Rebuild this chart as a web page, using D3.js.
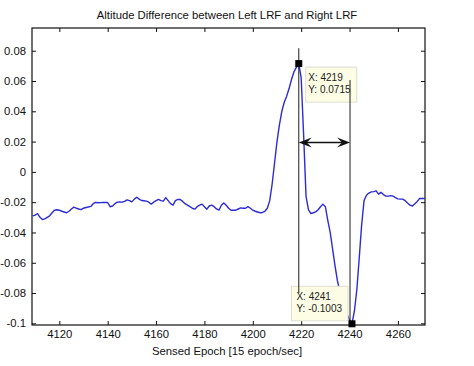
<!DOCTYPE html>
<html>
<head>
<meta charset="utf-8">
<script src="https://cdn.jsdelivr.net/npm/d3@7"></script>
<style>
  html, body { margin: 0; padding: 0; background: #fff; }
  svg { display: block; font-family: Arial, "Liberation Sans", sans-serif; }
</style>
</head>
<body>
<svg id="chart" width="474" height="366"></svg>
<script>
// ---- Data ----
const title = "Altitude Difference between Left LRF and Right LRF";
const xLabel = "Sensed Epoch [15 epoch/sec]";
const startEpoch = 4109;
const altDiff = [
  -0.029, -0.0285, -0.0275, -0.030, -0.0315, -0.031, -0.030, -0.029, -0.027, -0.0253,   // 4109-4118
  -0.025, -0.0253, -0.026, -0.0265, -0.027, -0.026, -0.0245, -0.0233, -0.024, -0.0245,  // 4119-4128
  -0.0249, -0.024, -0.0235, -0.0232, -0.0228, -0.021, -0.0202, -0.0204, -0.0203, -0.0202, // 4129-4138
  -0.0202, -0.0202, -0.023, -0.0225, -0.021, -0.020, -0.0198, -0.020, -0.0195, -0.0185,  // 4139-4148
  -0.019, -0.0198, -0.018, -0.0167, -0.018, -0.0189, -0.0191, -0.0193, -0.020, -0.0213,  // 4149-4158
  -0.020, -0.019, -0.0182, -0.019, -0.0193, -0.017, -0.019, -0.021, -0.022, -0.019,      // 4159-4168
  -0.0182, -0.0182, -0.0195, -0.021, -0.022, -0.023, -0.024, -0.0246, -0.023, -0.022,    // 4169-4178
  -0.0213, -0.023, -0.0246, -0.0225, -0.022, -0.023, -0.0245, -0.0253, -0.022, -0.0205,  // 4179-4188
  -0.022, -0.024, -0.0253, -0.0253, -0.0253, -0.0245, -0.0238, -0.024, -0.024, -0.023,   // 4189-4198
  -0.024, -0.0253, -0.026, -0.0265, -0.027, -0.0268, -0.026, -0.024, -0.019, -0.008,     // 4199-4208
  0.006, 0.020, 0.031, 0.040, 0.046, 0.050, 0.055, 0.061, 0.066, 0.069,                  // 4209-4218
  0.0715, 0.062, 0.025, -0.016, -0.025, -0.0275, -0.027, -0.0264, -0.025, -0.023,        // 4219-4228
  -0.0213, -0.023, -0.032, -0.040, -0.051, -0.062, -0.072, -0.079, -0.085, -0.090,       // 4229-4238
  -0.094, -0.098, -0.1003, -0.092, -0.078, -0.057, -0.035, -0.019, -0.0154, -0.014,      // 4239-4248
  -0.0132, -0.013, -0.0125, -0.0147, -0.0135, -0.015, -0.016, -0.016, -0.0157, -0.016,   // 4249-4258
  -0.017, -0.0178, -0.018, -0.018, -0.019, -0.0206, -0.022, -0.0225, -0.021, -0.0195,    // 4259-4268
  -0.0176, -0.0176, -0.0176                                                              // 4269-4271
];
const epochs = altDiff.map((v, i) => startEpoch + i);

const xTicks = [4120, 4140, 4160, 4180, 4200, 4220, 4240, 4260];
const xTickLabels = ["4120", "4140", "4160", "4180", "4200", "4220", "4240", "4260"];
const yTicks = [-0.1, -0.08, -0.06, -0.04, -0.02, 0, 0.02, 0.04, 0.06, 0.08];
const yTickLabels = ["-0.1", "-0.08", "-0.06", "-0.04", "-0.02", "0", "0.02", "0.04", "0.06", "0.08"];

// data cursors
const cursorX = [4219, 4241];
const cursorY = [0.0715, -0.1003];
const cursorText = [["X: 4219", "Y: 0.0715"], ["X: 4241", "Y: -0.1003"]];
// annotation vertical lines [x, yTop, yBottom] in data units
const vLineX = [4219, 4240.2];
const vLineTop = [0.0817, 0.0606];
const vLineBottom = [-0.080, -0.1011];
const arrowY = 0.0194;

// ---- Layout ----
const L = 32, R = 425, T = 28, B = 325;
const x = d3.scaleLinear().domain([4108.7, 4271.2]).range([L, R]);
const y = d3.scaleLinear().domain([-0.1011, 0.095]).range([B, T]);

const svg = d3.select("#chart");

svg.append("defs").append("clipPath").attr("id", "clip")
  .append("rect").attr("x", L).attr("y", T).attr("width", R - L).attr("height", B - T);

// title
svg.append("text").attr("x", 227).attr("y", 19).attr("text-anchor", "middle")
  .attr("font-size", 11.3).attr("fill", "#111").text(title);

// x label
svg.append("text").attr("x", 227).attr("y", 355).attr("text-anchor", "middle")
  .attr("font-size", 11.3).attr("fill", "#111").text(xLabel);

// axes
const fmtX = (d) => xTickLabels[xTicks.indexOf(d)];
const fmtY = (d) => yTickLabels[yTicks.findIndex(t => Math.abs(t - d) < 1e-9)];

const gx = svg.append("g").attr("transform", `translate(0,${B})`)
  .call(d3.axisBottom(x).tickValues(xTicks).tickFormat(fmtX).tickSizeInner(-4).tickSizeOuter(0).tickPadding(5));
const gxt = svg.append("g").attr("transform", `translate(0,${T})`)
  .call(d3.axisTop(x).tickValues(xTicks).tickFormat("").tickSizeInner(-4).tickSizeOuter(0));
const gy = svg.append("g").attr("transform", `translate(${L},0)`)
  .call(d3.axisLeft(y).tickValues(yTicks).tickFormat(fmtY).tickSizeInner(-4).tickSizeOuter(0).tickPadding(6));
const gyr = svg.append("g").attr("transform", `translate(${R},0)`)
  .call(d3.axisRight(y).tickValues(yTicks).tickFormat("").tickSizeInner(-4).tickSizeOuter(0));

[gx, gxt, gy, gyr].forEach(g => {
  g.select(".domain").remove();
  g.selectAll("line").attr("stroke", "#111");
  g.selectAll("text").attr("font-size", 11.3).attr("fill", "#111")
    .attr("font-family", "Arial, 'Liberation Sans', sans-serif");
});

// data line
const line = d3.line().x((d, i) => x(epochs[i])).y(d => y(d));
svg.append("path").datum(altDiff).attr("clip-path", "url(#clip)")
  .attr("d", line).attr("fill", "none").attr("stroke", "#2b2bd8")
  .attr("stroke-width", 1.4).attr("stroke-linejoin", "round");

// frame
svg.append("rect").attr("x", L).attr("y", T).attr("width", R - L).attr("height", B - T)
  .attr("fill", "none").attr("stroke", "#111").attr("stroke-width", 1.2);

// tooltip boxes
const boxes = [
  { x: x(cursorX[0]) + 7, y: y(cursorY[0]) + 3.5, w: 51, h: 35 },
  { x: x(cursorX[1]) - 60.5, y: y(cursorY[1]) - 37.5, w: 56.5, h: 34.5 }
];
boxes.forEach((b, i) => {
  svg.append("rect").attr("x", b.x).attr("y", b.y).attr("width", b.w).attr("height", b.h)
    .attr("fill", "#fdfde6").attr("stroke", "#deded0").attr("stroke-width", 1);
  cursorText[i].forEach((t, j) => {
    svg.append("text").attr("x", b.x + (i === 0 ? 2.5 : 5)).attr("y", b.y + 13.5 + j * 12.5)
      .attr("font-size", 10).attr("fill", "#222").text(t);
  });
});

// vertical lines
vLineX.forEach((vx, i) => {
  svg.append("line").attr("x1", x(vx)).attr("x2", x(vx))
    .attr("y1", y(vLineTop[i])).attr("y2", y(vLineBottom[i]))
    .attr("stroke", "#333").attr("stroke-width", 1.1);
});

// double arrow
const ax1 = x(vLineX[0]), ax2 = x(vLineX[1]), ay = y(arrowY);
svg.append("line").attr("x1", ax1 + 6).attr("x2", ax2 - 6).attr("y1", ay).attr("y2", ay)
  .attr("stroke", "#111").attr("stroke-width", 1.4);
const head = (tx, dir) => {
  const len = 13, hw = 5, notch = 8;
  return `M${tx},${ay} L${tx + dir * len},${ay - hw} L${tx + dir * notch},${ay} L${tx + dir * len},${ay + hw} Z`;
};
svg.append("path").attr("d", head(ax1, 1)).attr("fill", "#111");
svg.append("path").attr("d", head(ax2, -1)).attr("fill", "#111");

// cursor markers
cursorX.forEach((cx, i) => {
  svg.append("rect").attr("x", x(cx) - 3.5).attr("y", y(cursorY[i]) - 3.5)
    .attr("width", 7).attr("height", 7).attr("fill", "#000");
});
</script>
</body>
</html>
